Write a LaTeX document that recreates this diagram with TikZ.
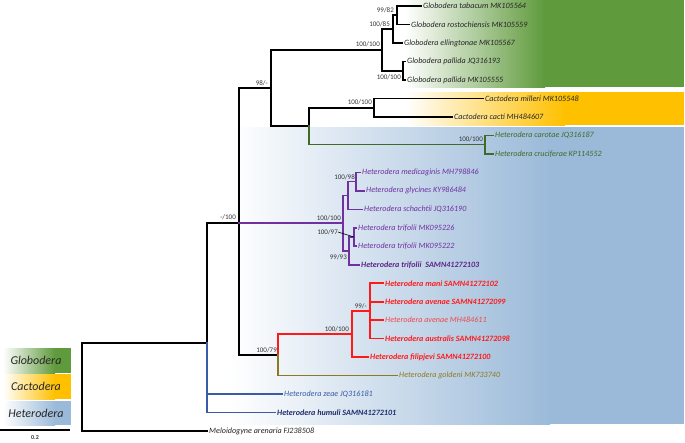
\documentclass[tikz,border=0pt]{standalone}
\usepackage{fontspec}
\setmainfont{Carlito}
\definecolor{gbg}{HTML}{5F9A3C}
\definecolor{ybg}{HTML}{FFC000}
\definecolor{bbg}{HTML}{9BBAD9}
\definecolor{cpur}{HTML}{7030A0}
\definecolor{cpurd}{HTML}{5A2686}
\definecolor{cred}{HTML}{FF1A1A}
\definecolor{credl}{HTML}{F04848}
\definecolor{cgold}{HTML}{8C7A20}
\definecolor{cgrn}{HTML}{3E6B2A}
\definecolor{cblu}{HTML}{3A5BA8}
\definecolor{cnavy}{HTML}{1F2D6B}
\begin{document}
\begin{tikzpicture}[x=1pt,y=-1pt,
  br/.style={line width=1.6pt, line cap=rect},
  leaf/.style={anchor=west, inner xsep=2pt, inner ysep=0pt, font=\fontsize{8.1}{9}\selectfont\itshape, text=black!85},
  bleaf/.style={leaf, font=\fontsize{8.1}{9}\selectfont\bfseries\itshape},
  sup/.style={anchor=east, inner sep=0pt, font=\fontsize{7}{8}\selectfont, text=black!80},
  legt/.style={font=\fontsize{12}{13}\selectfont\itshape, text=black!85},
]
\useasboundingbox (0,0) rectangle (685,442);
% ---------- backgrounds ----------
\shade[left color=white, right color=gbg] (405,0) rectangle (545,87);
\fill[gbg] (545,0) rectangle (684,87);
\shade[left color=white, right color=ybg] (405,92) rectangle (565,125);
\fill[ybg] (565,92) rectangle (684,125);
\shade[left color=white, right color=bbg] (230,127) rectangle (550,424);
\fill[bbg] (550,127) rectangle (684,424);
% legend
\shade[left color=white, right color=gbg] (3,348) rectangle (55,373);
\fill[gbg] (55,348) rectangle (71,373);
\shade[left color=white, right color=ybg] (3,374) rectangle (55,399);
\fill[ybg] (55,374) rectangle (71,399);
\shade[left color=white, right color=bbg] (3,401) rectangle (55,425);
\fill[bbg] (55,401) rectangle (71,425);
\node[legt] (lg1) at (36,360.5) {Globodera};
\node[legt] (lg2) at (36,386.5) {Cactodera};
\node[legt] (lg3) at (36,413) {Heterodera};
% scale bar
\coordinate (sb1) at (0,430);
\coordinate (sb2) at (70,430);
\draw[line width=1.5pt] (sb1) -- (sb2);
\node[font=\fontsize{6}{6}\selectfont\bfseries, text=black!80] (sbl) at (35,438) {0.2};
% ---------- internal nodes ----------
\coordinate (G1) at (397,15.25);
\coordinate (G2) at (393,29.1);
\coordinate (G3) at (403,70.7);
\coordinate (G4) at (382,49.9);
\coordinate (Ca) at (374,107.7);
\coordinate (Hc) at (485,144.6);
\coordinate (CH) at (309,126.1);
\coordinate (C)  at (271,88);
\coordinate (Pm) at (356,181.5);
\coordinate (Ps) at (348,195.4);
\coordinate (Pt) at (354,237);
\coordinate (Pu) at (349,250.9);
\coordinate (P)  at (343,223);
\coordinate (R1) at (370,310.9);
\coordinate (R2) at (352,334);
\coordinate (D)  at (278,354.8);
\coordinate (B)  at (239,223);
\coordinate (A)  at (207,343);
\coordinate (Rt) at (82,387);
% ---------- leaves ----------
\node[leaf] (L1) at (421,6) {Globodera tabacum MK105564};
\node[leaf] (L2) at (409,24.5) {Globodera rostochiensis MK105559};
\node[leaf] (L3) at (402,43) {Globodera ellingtonae MK105567};
\node[leaf] (L4) at (405,61.4) {Globodera pallida JQ316193};
\node[leaf] (L5) at (405,79.9) {Globodera pallida MK105555};
\node[leaf] (L6) at (483,98.4) {Cactodera milleri MK105548};
\node[leaf] (L7) at (452,116.9) {Cactodera cacti MH484607};
\node[leaf, text=cgrn] (L8) at (493,135.4) {Heterodera carotae JQ316187};
\node[leaf, text=cgrn] (L9) at (493,153.8) {Heterodera cruciferae KP114552};
\node[leaf, text=cpur] (L10) at (360,172.3) {Heterodera medicaginis MH798846};
\node[leaf, text=cpur] (L11) at (364,190.8) {Heterodera glycines KY986484};
\node[leaf, text=cpur] (L12) at (362,209.3) {Heterodera schachtii JQ316190};
\node[leaf, text=cpur] (L13) at (356,227.8) {Heterodera trifolii MK095226};
\node[leaf, text=cpur] (L14) at (356,246.2) {Heterodera trifolii MK095222};
\node[bleaf, text=cpurd] (L15) at (359,264.7) {Heterodera trifolii\ \ SAMN41272103};
\node[bleaf, text=cred] (L16) at (383,283.2) {Heterodera mani SAMN41272102};
\node[bleaf, text=cred] (L17) at (383,301.7) {Heterodera avenae SAMN41272099};
\node[leaf, text=credl] (L18) at (383,320.2) {Heterodera avenae MH484611};
\node[bleaf, text=cred] (L19) at (383,338.6) {Heterodera australis SAMN41272098};
\node[bleaf, text=cred] (L20) at (368,357.1) {Heterodera filipjevi SAMN41272100};
\node[leaf, text=cgold] (L21) at (397,375.6) {Heterodera goldeni MK733740};
\node[leaf, text=cblu] (L22) at (282,394.1) {Heterodera zeae JQ316181};
\node[bleaf, text=cnavy] (L23) at (275,412.6) {Heterodera humuli SAMN41272101};
\node[leaf] (L24) at (207,431) {Meloidogyne arenaria FJ238508};
% ---------- branches ----------
\begin{scope}[br, black]
\draw (G1) |- (L1.west); \draw (G1) |- (L2.west);
\draw (G2) |- (G1); \draw (G2) |- (L3.west);
\draw (G3) |- (L4.west); \draw (G3) |- (L5.west);
\draw (G4) |- (G2); \draw (G4) |- (G3);
\draw (Ca) |- (L6.west); \draw (Ca) |- (L7.west);
\draw (CH) |- (Ca);
\draw (C) |- (G4); \draw (C) |- (CH);
\draw (B) |- (C); \draw (B) |- (D);
\draw (A) |- (B);
\draw (Rt) |- (A); \draw (Rt) |- (L24.west);
\end{scope}
\begin{scope}[br, cgrn]
\draw (CH) |- (Hc);
\draw (Hc) |- (L8.west); \draw (Hc) |- (L9.west);
\end{scope}
\begin{scope}[br, cpur]
\draw (B) -- (P);
\draw (P) |- (Ps); \draw (P) |- (Pu);
\draw (Ps) |- (Pm); \draw (Ps) |- (L12.west);
\draw (Pm) |- (L10.west); \draw (Pm) |- (L11.west);
\draw (Pu) |- (Pt); \draw (Pu) |- (L15.west);
\draw (Pt) |- (L13.west); \draw (Pt) |- (L14.west);
\end{scope}
\begin{scope}[br, cred]
\draw (D) |- (R2);
\draw (R2) |- (R1); \draw (R2) |- (L20.west);
\draw (R1) |- (L16.west); \draw (R1) |- (L17.west);
\draw (R1) |- (L18.west); \draw (R1) |- (L19.west);
\end{scope}
\begin{scope}[br, cgold]
\draw (D) |- (L21.west);
\end{scope}
\begin{scope}[br, cblu]
\draw (A) |- (L22.west); \draw (A) |- (L23.west);
\end{scope}
% ---------- support values ----------
\node[sup] (s1) at (394,10) {99/82};
\node[sup] (s2) at (390,24) {100/85};
\node[sup] (s3) at (380,44) {100/100};
\node[sup] (s4) at (401,77) {100/100};
\node[sup] (s5) at (268,83) {98/-};
\node[sup] (s6) at (372,102) {100/100};
\node[sup] (s7) at (483,139) {100/100};
\node[sup] (s8) at (355,177) {100/98};
\node[sup] (s9) at (341,218) {100/100};
\node[sup] (s10) at (338,232) {100/97};
\node[sup] (s11) at (347,257) {99/93};
\node[sup] (s12) at (236,217) {-/100};
\node[sup] (s13) at (277,350) {100/79};
\node[sup] (s14) at (349,329) {100/100};
\node[sup] (s15) at (367,306) {99/-};
\draw[black, line width=0.6pt] (s10.east) -- (Pt);
\end{tikzpicture}
\end{document}
